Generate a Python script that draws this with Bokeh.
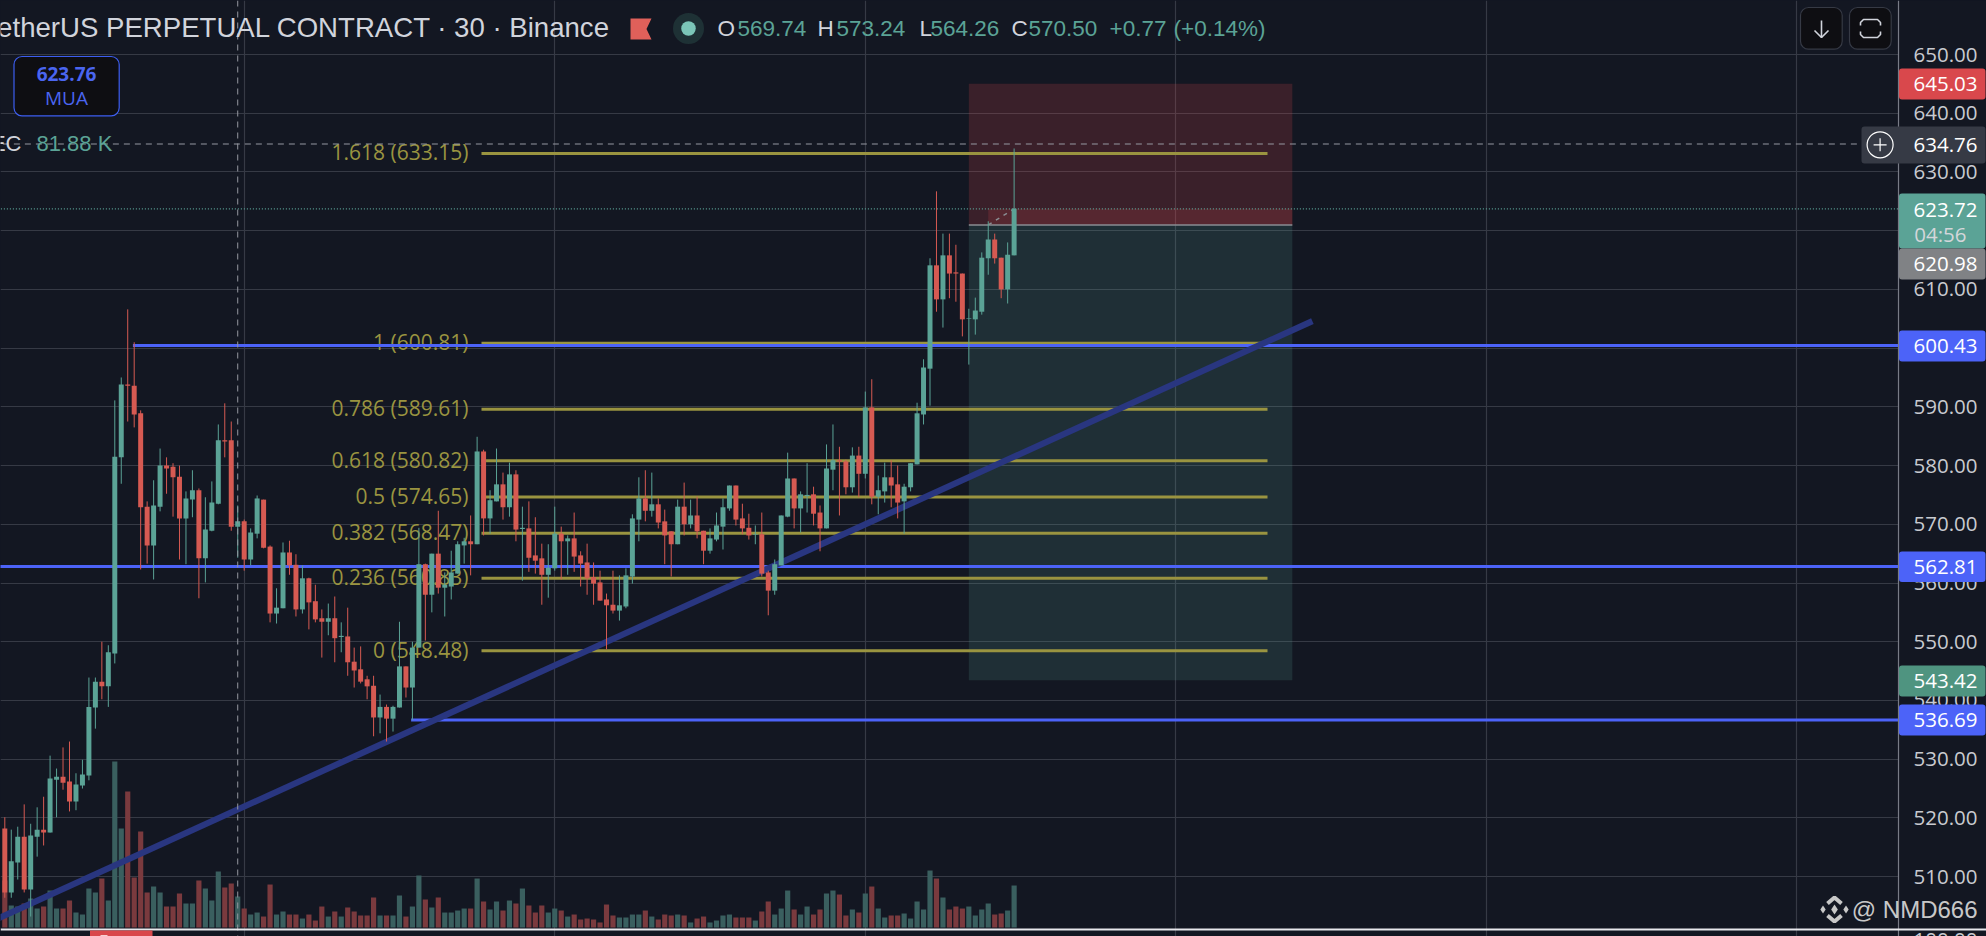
from bokeh.plotting import figure
from bokeh.models import (Range1d, LinearAxis, FixedTicker, Grid, Label, BoxAnnotation, Span,
                          NumeralTickFormatter, ColumnDataSource, GlobalInlineStyleSheet)
from bokeh.core.properties import value
from bokeh.embed import file_html
from bokeh.resources import INLINE

OPEN = [518.2,507.3,512.4,516.8,507.8,516.8,518.0,517.5,526.5,527.0,
526.2,522.8,525.5,527.2,538.8,543.2,542.4,548.0,581.4,593.8,
593.6,588.9,573.0,566.4,573.0,580.0,579.8,578.1,571.0,574.2,
575.8,564.2,568.9,573.5,584.3,584.3,569.6,570.5,564.0,568.4,
574.2,566.2,554.8,555.7,565.2,563.1,555.5,560.8,556.9,554.0,
553.4,554.0,550.8,550.9,546.6,545.3,543.6,542.5,537.1,538.9,
536.9,538.8,545.8,542.2,549.0,563.2,558.0,565.0,559.2,559.4,
561.6,566.4,567.1,566.6,582.4,571.0,573.9,576.8,572.9,578.5,
569.2,569.3,564.7,564.2,561.4,562.5,568.4,567.1,567.6,564.7,
563.5,561.0,560.1,557.2,556.3,555.3,556.0,561.1,570.8,574.4,
572.3,573.4,570.5,568.8,566.6,573.0,570.0,571.5,568.9,565.5,
567.4,569.6,572.7,576.6,571.0,569.4,568.2,568.3,561.8,558.7,
563.0,571.3,577.8,572.7,574.8,575.1,572.0,569.3,579.3,580.9,
580.7,576.3,581.7,578.6,589.9,574.7,575.6,578.0,576.8,573.9,
576.3,580.2,588.7,596.5,614.1,608.3,615.8,612.9,612.7,605.0,
604.9,606.2,615.3,618.5,615.4,610.0,615.8]
HIGH = [520.1,518.0,518.5,522.3,519.0,521.8,523.6,530.6,528.4,532.0,
533.0,527.6,529.9,543.9,543.9,550.0,549.4,591.1,595.0,606.6,
601.0,589.4,573.9,577.5,582.9,581.4,580.4,580.0,575.6,579.2,
576.1,574.6,577.3,587.0,590.6,587.5,573.2,570.8,569.3,574.9,
574.2,566.4,559.1,566.9,567.2,564.9,563.0,560.9,559.7,555.5,
556.5,557.7,553.3,555.8,549.0,549.2,544.2,544.2,541.0,539.3,
539.1,553.4,545.8,550.0,569.4,563.3,565.0,572.3,561.8,565.5,
567.1,567.7,571.5,584.9,582.7,575.8,582.9,578.8,580.5,579.2,
573.0,573.9,571.2,566.7,566.6,573.0,569.6,568.1,572.0,565.4,
566.7,563.5,562.1,558.2,562.1,561.3,562.5,571.7,578.0,579.2,
578.8,574.4,572.5,568.8,574.2,577.1,574.2,574.7,568.9,569.3,
572.0,574.4,576.6,576.6,573.5,571.8,569.8,572.0,562.1,564.0,
571.5,582.2,577.8,575.6,580.4,576.4,573.2,583.6,587.0,583.2,
581.0,583.1,583.2,592.6,594.7,578.3,580.5,580.9,580.0,576.9,
580.4,590.7,598.1,615.3,626.7,619.5,619.5,617.6,612.7,606.7,
608.6,616.3,621.6,619.5,615.4,618.0,634.0]
LOW = [506.4,506.4,509.5,507.3,503.2,513.4,515.3,517.5,520.1,524.8,
521.1,521.3,525.0,526.4,535.2,540.2,538.9,546.3,576.9,587.5,
586.5,562.3,563.3,560.6,572.2,575.2,571.3,564.0,563.2,571.2,
557.4,560.1,568.8,573.4,581.4,568.9,564.3,562.1,563.0,567.6,
565.9,553.3,553.1,555.7,561.4,554.3,554.8,552.1,553.3,547.3,
551.1,546.5,548.2,544.2,542.2,542.9,540.2,533.9,534.4,533.0,
534.7,538.8,540.5,536.6,549.0,550.2,555.0,558.2,554.3,557.2,
561.6,563.3,561.3,566.6,568.1,568.4,573.9,570.8,571.3,567.1,
560.4,561.9,561.6,556.3,557.5,562.1,560.6,561.4,561.9,559.4,
558.0,556.3,557.0,548.7,554.8,553.6,555.7,559.9,567.1,570.5,
571.3,569.3,563.2,561.1,566.6,568.1,569.3,567.6,563.2,565.0,
567.1,565.7,572.3,569.8,568.3,567.4,566.6,561.1,554.5,558.0,
563.0,571.2,569.3,568.6,572.0,569.8,565.4,569.3,575.8,571.5,
575.1,575.4,574.6,577.8,573.4,571.7,573.7,572.9,571.0,568.4,
575.6,580.2,587.0,590.2,606.2,603.5,608.5,607.9,602.0,597.2,
602.3,605.7,612.5,614.4,608.5,607.6,615.8]
CLOSE = [507.3,512.6,516.8,507.8,517.0,518.0,517.5,526.7,527.0,526.0,
522.8,525.7,527.4,538.9,543.2,542.4,548.2,581.5,593.8,593.6,
588.7,572.9,566.4,573.2,580.0,579.5,578.0,571.0,574.4,575.8,
564.2,569.1,573.7,584.3,584.1,569.6,570.5,564.0,568.6,574.4,
566.0,554.8,555.8,565.2,563.0,555.5,560.8,556.7,553.8,553.4,
554.0,550.6,551.0,546.5,545.1,543.2,542.4,537.1,538.9,536.9,
538.9,545.8,542.2,549.0,563.2,558.0,565.0,559.2,559.7,561.8,
566.6,567.1,566.6,582.4,571.0,574.1,576.8,572.9,578.5,569.1,
569.4,564.3,563.8,561.4,562.6,568.4,567.1,567.6,564.5,563.3,
560.8,559.9,557.0,556.2,555.3,556.2,561.3,571.0,574.4,572.3,
573.4,570.3,568.1,566.6,573.0,570.0,571.5,568.8,565.5,567.6,
569.8,572.9,576.6,570.8,569.3,568.1,568.3,561.6,558.7,563.2,
571.5,577.8,572.7,575.1,575.0,571.8,569.3,579.5,580.9,580.7,
576.3,581.7,578.6,589.9,574.7,575.8,578.0,576.6,573.7,576.4,
580.4,588.9,596.7,614.1,608.3,615.8,612.7,612.7,604.9,605.1,
606.4,615.4,618.5,615.3,610.0,615.9,623.72]
VOLUME = [91.6,42.9,40.9,46.8,56.5,37.0,40.9,72.1,37.0,37.0,
52.6,29.2,25.3,76.0,68.2,95.5,52.6,323.7,193.0,265.2,
97.5,187.2,68.2,79.9,68.2,40.9,40.9,66.3,46.8,46.8,
91.6,76.0,52.6,109.2,78.0,85.8,60.4,37.0,25.3,29.2,
21.4,83.8,25.3,31.2,25.3,25.3,17.5,25.3,13.6,40.9,
21.4,31.2,21.4,39.0,31.2,23.4,23.4,58.5,23.4,23.4,
23.4,62.4,21.4,40.9,101.4,54.6,39.0,58.5,29.2,29.2,
33.1,37.0,37.0,95.5,50.7,35.1,50.7,33.1,52.6,46.8,
76.0,42.9,29.2,42.9,29.2,37.0,33.1,21.4,25.3,15.6,
17.5,15.6,9.8,44.8,23.4,19.5,19.5,25.3,25.3,33.1,
21.4,15.6,25.3,23.4,25.3,23.4,9.8,17.5,21.4,9.8,
13.6,23.4,25.3,19.5,19.5,19.5,13.6,31.2,50.7,25.3,
37.0,72.1,35.1,25.3,40.9,25.3,35.1,66.3,72.1,64.3,
23.4,35.1,29.2,66.3,79.9,37.0,19.5,23.4,23.4,27.3,
17.5,50.7,35.1,111.1,95.5,58.5,35.1,40.9,37.0,40.9,
23.4,35.1,46.8,25.3,27.3,33.1,81.88]

PRICE_TICKS = [510,520,530,540,550,560,570,580,590,600,610,620,630,640,650]
DAY_TICKS = [37,85,133,181,229,277]
FIB_RATIOS = ["1.618","1","0.786","0.618","0.5","0.382","0.236","0"]
FIB_PRICES = ["633.15","600.81","589.61","580.82","574.65","568.47","560.83","548.48"]
FIB_LEVELS = [633.15,600.81,589.61,580.82,574.65,568.47,560.83,548.48]
STOP_PRICE, ENTRY_PRICE, TARGET_PRICE = 645.03, 620.98, 543.42
LAST_PRICE = 623.72
CROSS_PRICE = 634.76
LEVEL_PRICES = [600.43, 562.81, 536.69]
LEVEL_STARTS = [19.8, -2, 62.8]
TREND_X = [-1, 202.1]
TREND_Y = [502.9, 604.6]

BG = "#131722"; GRID = "#363a45"; GREEN = "#5ba396"; RED = "#d65a52"
VGREEN = "#3a5f5f"; VRED = "#7a3a3e"; BLUE = "#4c63f8"; OLIVE = "#9a9440"
TEXT = "#d1d4dc"; AXTEXT = "#c8cad0"
FONT = "Open Sans"; SANS = "Liberation Sans"

# decoration helpers: window pixel -> chart coordinate
def X(px): return (px - 4.3) / 6.47
def Y(py): return 659.2 - 0.1703 * py

p = figure(width=1986, height=936, output_backend="svg", toolbar_location=None,
           x_range=Range1d(X(0), X(1986)), y_range=Range1d(Y(936), Y(0)),
           x_axis_location=None, y_axis_location="right",
           background_fill_color=BG, border_fill_color=BG,
           min_border_left=0, min_border_top=0, min_border_bottom=0, min_border_right=0)
p.outline_line_color = None
p.grid.visible = False
p.extra_y_ranges = {"vol": Range1d(-9*1.95, 927*1.95)}
p.stylesheets = [GlobalInlineStyleSheet(css="body{background:%s;}" % BG)]

ax = p.yaxis[0]
ax.fixed_location = X(1898)
ax.ticker = FixedTicker(ticks=PRICE_TICKS)
ax.formatter = NumeralTickFormatter(format="0.00")
ax.major_tick_line_color = None; ax.minor_tick_line_color = None
ax.major_tick_in = 0; ax.major_tick_out = 0
ax.axis_line_color = "#787b86"; ax.axis_line_width = 1.2
ax.major_label_text_color = AXTEXT
ax.major_label_text_font = FONT; ax.major_label_text_font_size = "20.5px"
ax.major_label_standoff = 15

p.add_layout(Grid(dimension=0, ticker=FixedTicker(ticks=DAY_TICKS), grid_line_color=GRID, grid_line_width=1.2))
p.add_layout(Grid(dimension=1, ticker=FixedTicker(ticks=PRICE_TICKS), grid_line_color=GRID, grid_line_width=1.2))

idx = list(range(len(OPEN)))
up = [c >= o for o, c in zip(OPEN, CLOSE)]
src = ColumnDataSource(dict(
    x=idx, o=OPEN, h=HIGH, l=LOW, c=CLOSE, v=VOLUME,
    top=[max(a, b) for a, b in zip(OPEN, CLOSE)],
    bot=[min(a, b) for a, b in zip(OPEN, CLOSE)],
    color=[GREEN if u else RED for u in up],
    vcolor=[VGREEN if u else VRED for u in up]))

# position tool
p.quad(left=149, right=199, bottom=ENTRY_PRICE, top=STOP_PRICE, fill_color="#d9484c", fill_alpha=0.2, line_color=None)
p.quad(left=149, right=199, bottom=TARGET_PRICE, top=ENTRY_PRICE, fill_color=GREEN, fill_alpha=0.18, line_color=None)
p.quad(left=152, right=199, bottom=ENTRY_PRICE, top=LAST_PRICE, fill_color="#d9484c", fill_alpha=0.18, line_color=None)
p.segment(x0=[149], x1=[199], y0=[ENTRY_PRICE], y1=[ENTRY_PRICE], line_color="#8a8d92", line_width=1.6)
p.line([152, 156], [ENTRY_PRICE, LAST_PRICE], line_color="#8a8d92", line_width=1.4, line_dash="4 5")

# volume
p.vbar(x="x", width=0.8, bottom=0, top="v", source=src, fill_color="vcolor", line_color=None, y_range_name="vol")

# fibonacci
p.text(x=[X(468)]*8, y=FIB_LEVELS, text=[f"{r} ({v})" for r, v in zip(FIB_RATIOS, FIB_PRICES)],
       text_align="right", text_baseline="middle", text_color=OLIVE, y_offset=-1,
       text_font=value(FONT), text_font_size="21px")
p.segment(x0=[X(481)]*8, x1=[X(1267)]*8, y0=FIB_LEVELS, y1=FIB_LEVELS, line_color=OLIVE, line_width=3)

# horizontal levels, trend, price lines
p.segment(x0=LEVEL_STARTS, x1=[X(1898)]*3, y0=LEVEL_PRICES, y1=LEVEL_PRICES, line_color=BLUE, line_width=3)
p.line(TREND_X, TREND_Y, line_color="#293680", line_width=6.2)
p.segment(x0=[-2], x1=[X(1898)], y0=[LAST_PRICE], y1=[LAST_PRICE], line_color=GREEN, line_width=1.2, line_dash="1 2")
p.segment(x0=[-2], x1=[X(1857)], y0=[CROSS_PRICE], y1=[CROSS_PRICE], line_color="#9598a1", line_width=1, line_dash="6 5")
p.add_layout(Span(location=36, dimension="height", line_color="#9598a1", line_width=1, line_dash="6 5"))

# candles
p.segment(x0="x", x1="x", y0="l", y1="h", source=src, line_color="color", line_width=1)
p.vbar(x="x", width=0.77, bottom="bot", top="top", source=src, fill_color="color", line_color=None)

# background of the price scale strip
p.quad(left=X(1898), right=X(1986), bottom=Y(936), top=Y(0), fill_color=BG, line_color=None)

# boxes and labels in the chart's annotation layer
def box(l, r, t, b, color, radius=0, line=None):
    p.add_layout(BoxAnnotation(left=X(l), right=X(r), top=Y(t), bottom=Y(b), fill_color=color, fill_alpha=1,
                               line_color=line, line_alpha=1 if line else 0, line_width=1.2,
                               border_radius=radius))

def lab(px, py, txt, color=TEXT, size="20.5px", font=FONT, align="right", style="normal"):
    p.add_layout(Label(x=X(px), y=Y(py), text=txt, text_color=color, text_font=font, text_font_size=size,
                       text_align=align, text_baseline="middle", text_font_style=style))

# axis badges
box(1861, 1985, 126, 163, "#363a45", 3)
for (t, b, c, txt, py) in [
    (68, 99, "#d9484c", "645.03", 83.5),
    (193, 248, GREEN, "623.72", 209),
    (248, 279, "#808285", "620.98", 263.5),
    (330, 361, BLUE, "600.43", 345.5),
    (551, 581.5, BLUE, "562.81", 566.5),
    (665, 696, "#4f9480", "543.42", 680.5),
    (704, 735, BLUE, "536.69", 719.5)]:
    box(1898.5, 1985, t, b, c, 3)
    lab(1977, py, txt, "#ffffff")
lab(1977, 144.5, "634.76", "#ffffff")
lab(1966, 233, "04:56", "#d4d6da")

# header
lab(610, 27, "etherUS PERPETUAL CONTRACT \u00b7 30 \u00b7 Binance", TEXT, "27.6px", SANS)
for px, t, c in [(717, "O", TEXT), (737, "569.74", GREEN), (817, "H", TEXT), (836, "573.24", GREEN),
                 (919, "L", TEXT), (930, "564.26", GREEN), (1011, "C", TEXT), (1028, "570.50", GREEN),
                 (1109, "+0.77", GREEN), (1173, "(+0.14%)", GREEN)]:
    lab(px, 28, t, c, "22.5px", SANS, "left")
p.patch([X(630), X(651), X(646), X(651), X(630)], [Y(18), Y(18), Y(28.5), Y(39), Y(39)], fill_color="#e0605a", line_color=None)
p.scatter([X(688)], [Y(28)], size=31, fill_color="#1e3135", line_color=None)
p.scatter([X(688)], [Y(28)], size=14.5, fill_color="#7bc6b8", line_color=None)

# MUA box and volume legend
box(13.5, 118.7, 56, 115.3, "#0e0e12", 8, "#3d5ef0")
lab(66, 73, "623.76", "#4a65f0", "19px", FONT, "center", "bold")
lab(66, 97, "MUA", "#4a65f0", "19px", FONT, "center")
lab(21, 143, "EC", TEXT, "22px", SANS)
lab(36, 143, "81.88 K", GREEN, "22px", SANS, "left")

# top-right buttons
box(1800, 1841.7, 7, 48.7, "#0e0e12", 8, GRID)
box(1849, 1890.7, 7, 48.7, "#0e0e12", 8, GRID)
p.multi_line([[X(1821), X(1821)], [X(1814), X(1821), X(1828)],
              [X(1860), X(1860), X(1863), X(1877), X(1880), X(1880)],
              [X(1860), X(1860), X(1863), X(1877), X(1880), X(1880)]],
             [[Y(20), Y(37)], [Y(30), Y(37), Y(30)],
              [Y(25), Y(22), Y(19), Y(19), Y(22), Y(25)],
              [Y(31), Y(34), Y(37), Y(37), Y(34), Y(31)]],
             line_color=TEXT, line_width=1.6, level="overlay")
p.scatter([X(1879.6)], [Y(144.3)], size=26, marker="circle", fill_color=None, line_color="#ffffff", line_width=1.2, level="overlay")
p.scatter([X(1879.6)], [Y(144.3)], size=13, marker="cross", line_color="#ffffff", line_width=1.2, level="overlay")

# watermark
p.scatter([X(1834)], [Y(909)], size=10, marker="diamond", fill_color="#c8c8c8", line_color=None, level="overlay")
p.scatter([X(1822.5), X(1845.5)], [Y(909)]*2, size=8, marker="diamond", fill_color="#c8c8c8", line_color=None, level="overlay")
p.multi_line([[X(1827), X(1834), X(1841)], [X(1827), X(1834), X(1841)]],
             [[Y(903), Y(897), Y(903)], [Y(915), Y(921), Y(915)]], line_color="#c8c8c8", line_width=4, level="overlay")
lab(1977, 909, "@ NMD666", "#c8c8c8", "24px", SANS)

# bottom separator and time-axis remnants
lab(1977, 939, "100.00", AXTEXT)
box(0, 1986, 928, 930, "#e8e8ec")
box(89.5, 152, 930, 936, "#d9484c")
box(100, 107, 934.8, 936, "#ffffff")

open("out.html", "w").write(file_html(p, INLINE))
